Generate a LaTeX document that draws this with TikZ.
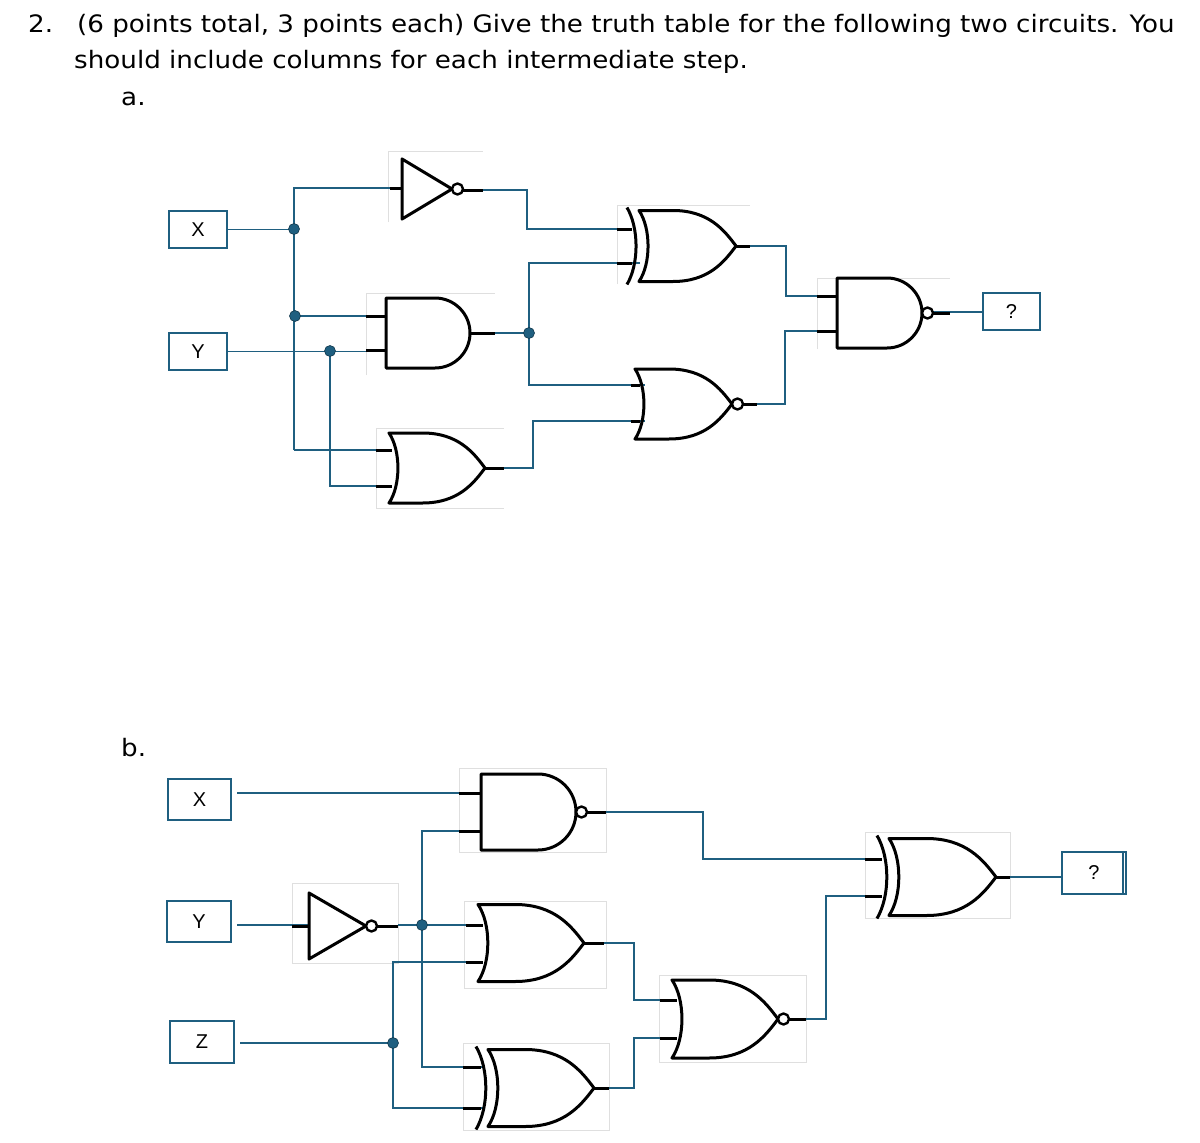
\documentclass[tikz,border=0pt]{standalone}
\usepackage{fontspec}
\setmainfont{DejaVu Sans}
\newfontfamily\lab{Liberation Sans}
\definecolor{wire}{HTML}{1F5F80}
\newcommand{\gAND}[4]{\draw[gate] (#1,{#2-#4/2}) -- ({#1+#3-#4/2},{#2-#4/2}) arc(-90:90:{#4/2}) -- (#1,{#2+#4/2}) -- cycle;}
\newcommand{\gOR}[4]{\draw[gate] (#1,{#2-#4/2}) -- ({#1+0.35*#3},{#2-#4/2}) .. controls ({#1+0.72*#3},{#2-#4/2}) and ({#1+0.88*#3},{#2-0.22*#4}) .. ({#1+#3},#2) .. controls ({#1+0.88*#3},{#2+0.22*#4}) and ({#1+0.72*#3},{#2+#4/2}) .. ({#1+0.35*#3},{#2+#4/2}) -- (#1,{#2+#4/2}) .. controls ({#1+0.17*#4},{#2+0.25*#4}) and ({#1+0.17*#4},{#2-0.25*#4}) .. cycle;}
\newcommand{\gXOR}[4]{\gOR{#1}{#2}{#3}{#4}\draw[gate] ({#1-12},{#2-#4/2-3}) .. controls ({#1-12+0.17*#4},{#2-0.25*#4}) and ({#1-12+0.17*#4},{#2+0.25*#4}) .. ({#1-12},{#2+#4/2+3});}
\newcommand{\gNOT}[4]{\draw[gate] (#1,{#2-#4/2}) -- ({#1+#3},#2) -- (#1,{#2+#4/2}) -- cycle;}
\newcommand{\bub}[2]{\draw[gate,line width=2.4pt,fill=white] (#1,#2) circle (5.5);}
\begin{document}
\begin{tikzpicture}[x=1pt,y=-1pt,
  gate/.style={black,line width=3pt,line join=round},
  stub/.style={black,line width=3pt},
  w/.style={wire,line width=1.8pt},
  frame/.style={gray!25,line width=0.8pt},
  lbox/.style={draw=wire,line width=1.5pt,minimum width=58pt,minimum height=37pt,inner sep=0pt,font=\lab\fontsize{20}{20}\selectfont},
  dot/.style={circle,fill=wire,draw=wire!60!black,line width=0.6pt,inner sep=0pt,minimum size=11pt},
  txt/.style={anchor=base west,inner sep=0pt,xscale=1.09,font=\fontsize{24}{28}\selectfont}]
\useasboundingbox (0,0) rectangle (1200,1143);
\fill[white] (0,0) rectangle (1200,1143);
\node[txt] (t1) at (28,32) {2.\hspace{22pt}(6 points total, 3 points each) Give the truth table for the following two circuits. You};
\node[txt] (t2) at (74,68) {should include columns for each intermediate step.};
\node[txt] (ta) at (121,105) {a.};
\node[txt] (tb) at (121,756) {b.};
% ---------- circuit a ----------
\node[lbox] (ax) at (198,229.5) {X};
\node[lbox] (ay) at (198,351.5) {Y};
\node[lbox,minimum width=57pt] (aq) at (1011.5,311.5) {?};
\foreach \a/\b/\c/\d in {388/151/483/222, 366/293/495/375, 376/428/504/508, 617/205/750/284, 817/278/950/349}
  \draw[frame] (\a,\d) -- (\a,\b) -- (\c,\b);
\draw[frame] (376,508) -- (504,508);
% wires
\draw[w] (ax.east) -- (294,229.5);
\draw[w] (294,450) -- (294,188) -- (402,188);
\draw[w] (294,316) -- (386,316);
\draw[w] (294,450) -- (390,450);
\draw[w] (ay.east) -- (386,351.5);
\draw[w] (330,351) -- (330,486) -- (390,486);
\draw[w] (483,190) -- (527,190) -- (527,229) -- (630,229);
\draw[w] (495,333) -- (529,333);
\draw[w] (640,263) -- (529,263) -- (529,385) -- (645,385);
\draw[w] (504,468) -- (533,468) -- (533,421) -- (645,421);
\draw[w] (750,246) -- (786,246) -- (786,296) -- (837,296);
\draw[w] (757,404) -- (785,404) -- (785,331) -- (837,331);
\draw[w] (933,312) -- (983,312);
\node[dot] (d1) at (294,229) {};
\node[dot] (d2) at (295,316) {};
\node[dot] (d3) at (330,351) {};
\node[dot] (d4) at (529,333) {};
% gates a
\gNOT{402}{189}{50}{60}\bub{457.5}{189}\draw[stub] (463,190) -- (483,190);\draw[stub] (390,188)--(402,188);
\gAND{386}{333}{84}{70}\draw[stub] (366,316)--(386,316) (366,350)--(386,350) (470,333)--(495,333);
\gOR{389}{468}{96}{70}\draw[stub] (376,450)--(392,450) (376,486)--(392,486) (485,468)--(504,468);
\gXOR{639}{246}{97}{71}\draw[stub] (617,229)--(632,229) (617,263)--(632,263) (736,246)--(750,246);
\gOR{635}{404}{97}{70}\bub{737.5}{404}\draw[stub] (631,385)--(640,385) (631,421)--(640,421) (743,404)--(757,404);
\gAND{837}{313}{85}{70}\bub{927.5}{313}\draw[stub] (817,296)--(837,296) (817,331)--(837,331) (933,313)--(950,313);
% ---------- circuit b ----------
\node[lbox,minimum width=63pt,minimum height=41pt] (bx) at (199.5,799.5) {X};
\node[lbox,minimum width=64pt,minimum height=41pt] (by) at (199,921.5) {Y};
\node[lbox,minimum width=64pt,minimum height=42pt] (bz) at (202,1042) {Z};
\node[lbox,minimum width=64pt,minimum height=42pt] (bq) at (1094,873) {?};
\draw[wire,line width=1.5pt] (1123,852) -- (1123,894);
\foreach \a/\b/\c/\d in {459/768/606/852, 292/883/398/963, 464/901/606/988, 463/1043/609/1130, 659/975/806/1062, 865/832/1010/918}
  \draw[frame] (\a,\b) rectangle (\c,\d);
\draw[w] (237,793) -- (481,793);
\draw[w] (606,812) -- (703,812) -- (703,859) -- (880,859);
\draw[w] (237,925) -- (309,925);
\draw[w] (398,925) -- (480,925);
\draw[w] (481,831) -- (422,831) -- (422,1067) -- (483,1067);
\draw[w] (240,1043) -- (393,1043);
\draw[w] (480,962) -- (393,962) -- (393,1108) -- (483,1108);
\draw[w] (604,943) -- (634,943) -- (634,1000) -- (675,1000);
\draw[w] (609,1088) -- (634,1088) -- (634,1038) -- (675,1038);
\draw[w] (806,1019) -- (826,1019) -- (826,896) -- (880,896);
\draw[w] (1010,877) -- (1062,877);
\node[dot] (e1) at (422,925) {};
\node[dot] (e2) at (393,1043) {};
% gates b
\gAND{481}{812}{95}{76}\bub{581.5}{812}\draw[stub] (459,793)--(481,793) (459,831)--(481,831) (587,812)--(606,812);
\gNOT{309}{926}{57}{66}\bub{371.5}{926}\draw[stub] (292,926)--(309,926) (377,926)--(398,926);
\gOR{478}{943}{106}{77}\draw[stub] (466,925)--(483,925) (466,962)--(483,962) (584,943)--(604,943);
\gXOR{488}{1088}{106}{77}\draw[stub] (463,1067)--(481,1067) (463,1108)--(481,1108) (594,1088)--(609,1088);
\gOR{672}{1019}{106}{78}\bub{783.5}{1019}\draw[stub] (660,1000)--(677,1000) (660,1038)--(677,1038) (789,1019)--(806,1019);
\gXOR{889}{877}{107}{77}\draw[stub] (865,859)--(882,859) (865,896)--(882,896) (996,877)--(1010,877);
\end{tikzpicture}
\end{document}
